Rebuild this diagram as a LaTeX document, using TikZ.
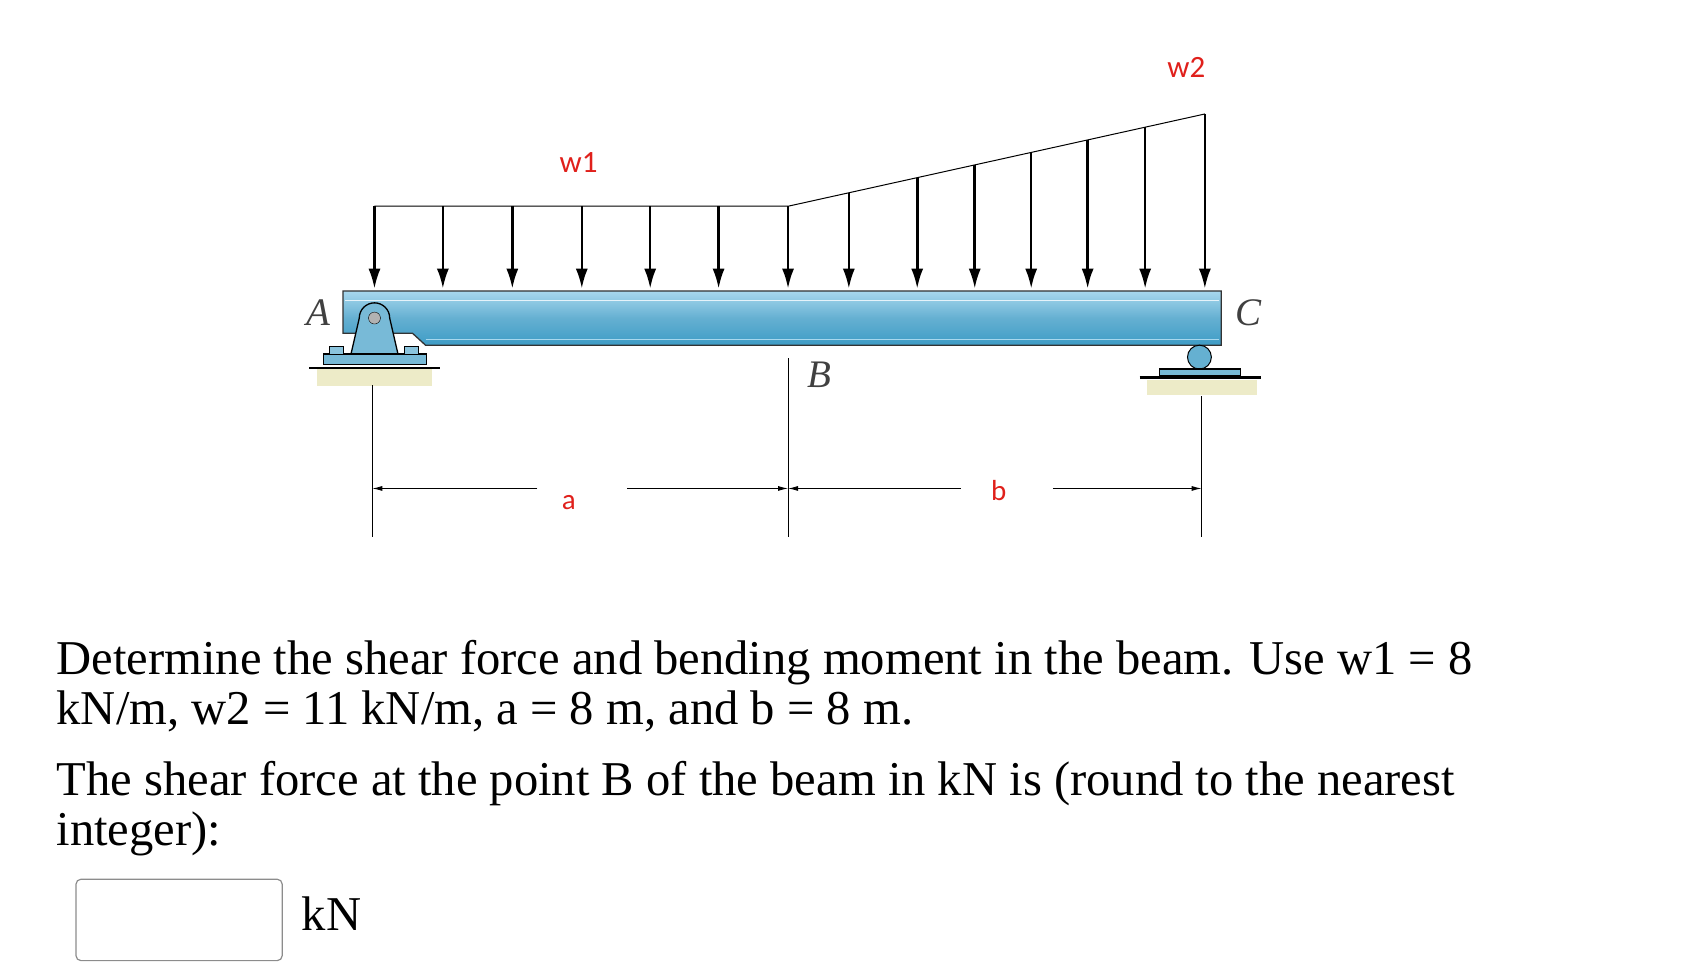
\documentclass[tikz,border=0pt]{standalone}
\usepackage{fontspec}
\setmainfont{Liberation Serif}
\newfontfamily\labfont{Carlito}
\usetikzlibrary{arrows.meta}
\definecolor{beamA}{HTML}{A8D8EE}
\definecolor{beamB}{HTML}{3E9CC6}
\definecolor{labred}{HTML}{E0201B}
\tikzset{
 load/.style={line width=2.6pt,-{Latex[length=20pt,width=12pt]}},
 dim/.style={line width=0.9pt},
 dimarr/.style={line width=0.9pt,-{Latex[length=10pt,width=5pt]}},
 lab/.style={font=\labfont\fontsize{31}{31}\selectfont,text=labred},
 ptlab/.style={font=\itshape\fontsize{39}{39}\selectfont,text=black!75},
 dlab/.style={font=\labfont\fontsize{29}{29}\selectfont,text=labred},
 body/.style={font=\fontsize{48.6}{52}\selectfont,anchor=base west,inner sep=0pt}
}
\begin{document}
\begin{tikzpicture}[x=1.0855pt,y=-1.0855pt]
\useasboundingbox (0,0) rectangle (1568,901);
% ground shadows
\fill[olive!20,opacity=0.8] (292,340) rectangle (398,356);
\fill[olive!20,opacity=0.8] (1057,350) rectangle (1158,364);
% beam
\shade[top color=beamA,bottom color=beamB,middle color=beamB!80] (316,268) -- (1125,268) -- (1125,318) -- (392,318) -- (380,307) -- (316,307) -- cycle;
\draw[line width=1.3pt,black!80] (316,268) -- (1125,268) -- (1125,318) -- (392,318) -- (380,307) -- (316,307) -- cycle;
\draw[white!70!beamA,line width=1.2pt] (318,277) -- (1123,277);
\draw[beamA,line width=1pt] (392,313) -- (1123,313);
% pin support A
\draw[line width=1.3pt,fill=beamB!70] (322,332) -- (331,293) arc (180:360:14) -- (368,332) -- cycle;
\draw[fill=gray!60] (345,293) circle (5.5);
\draw[line width=1.3pt,fill=beamB!70] (298,326) rectangle (393,336);
\draw[fill=beamB!60] (303,319) rectangle (316,326);
\draw[fill=beamB!60] (372,319) rectangle (385,326);
\draw[line width=2.8pt] (285,339) -- (405,339);
\node[ptlab] (A) at (293,288) {A};
% roller C
\draw[line width=1pt,fill=beamB!80] (1105,329) circle (11);
\draw[line width=1.2pt,fill=beamB!70] (1068,340) rectangle (1143,346);
\draw[line width=2.8pt] (1050,348) -- (1162,348);
\node[ptlab] (C) at (1150,288) {C};
\node[ptlab] (B) at (755,345) {B};
% loads
\foreach \x in {345,408,472,536,599,662,726}{
 \draw[load] (\x,190) -- (\x,266);}
\coordinate (k1) at (726,190);
\coordinate (k2) at (1110,105);
\draw[line width=1pt] (345,190) -- (k1) -- (k2);
\foreach \x in {782,845,898,950,1002,1055,1110}{
 \pgfmathsetmacro{\yy}{190-(\x-726)/384*85}
 \draw[load] (\x,\yy) -- (\x,266);}
\node[lab] (w1) at (533,150) {w1};
\node[lab] (w2) at (1093,62) {w2};
% dimensions
\draw[dim] (343,355) -- (343,495);
\draw[dim] (726,330) -- (726,495);
\draw[dim] (1107,365) -- (1107,495);
\coordinate (da) at (343,450); \coordinate (db) at (726,450); \coordinate (dc) at (1107,450);
\draw[dimarr] (495,450) -- (da);
\draw[dimarr] (578,450) -- (db);
\draw[dimarr] (885,450) -- (db);
\draw[dimarr] (970,450) -- (dc);
\node[dlab] (a) at (524,463) {a};
\node[dlab] (b) at (920,452) {b};
% text
\node[body] (t1) at (52,621) {Determine the shear force and bending moment in the beam. Use w1 = 8};
\node[body] (t2) at (52,667) {kN/m, w2 = 11 kN/m, a = 8 m, and b = 8 m.};
\node[body] (t3) at (52,733) {The shear force at the point B of the beam in kN is (round to the nearest};
\node[body] (t4) at (52,779) {integer):};
\draw[black!45,line width=1.2pt,rounded corners=5pt] (70,810) rectangle (260,885);
\node[body] (kn) at (278,857) {kN};
\end{tikzpicture}
\end{document}
